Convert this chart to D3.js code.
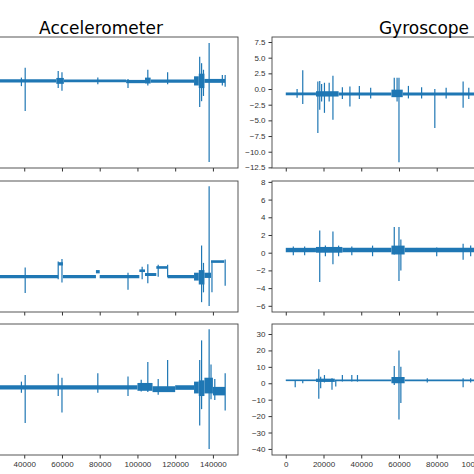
<!DOCTYPE html>
<html>
<head>
<meta charset="utf-8">
<style>
  body { margin: 0; background: #fff; }
  svg { display: block; font-family: "DejaVu Sans", sans-serif; }
</style>
</head>
<body>
<script src="https://cdn.jsdelivr.net/npm/d3@7/dist/d3.min.js"></script>
<script>
const W = 474, H = 474
const color = '#1f77b4'
const xTicks = [0, 20000, 40000, 60000, 80000, 100000, 120000, 140000]

// each panel: y domain, y ticks, noise band segments [x0, x1, lo, hi], spikes [x, lo, hi]
const accX = {
  domain: [-10, 10], ticks: [],
  bands: [[0, 57000, 3.05, 3.55], [57000, 61000, 2.85, 3.75], [61000, 94000, 3.1, 3.5], [94000, 104000, 2.95, 3.45],
    [104000, 107000, 2.9, 3.8], [107000, 130000, 3.0, 3.5], [130000, 132500, 2.6, 4.0], [132500, 135500, 2.2, 4.4], [135500, 146500, 3.0, 3.6]],
  spikes: [[38500, 2.5, 3.8], [40500, -1.3, 5.3], [58000, 2.2, 4.8], [60000, 1.8, 4.6], [79000, 2.8, 3.8], [95000, 2.2, 3.6],
    [105500, 2.6, 5.0], [116000, 2.8, 4.6], [133000, -0.7, 7.0], [134000, 0.2, 6.0], [135000, 1.0, 5.0], [138000, -9.1, 9.1],
    [145000, 2.6, 4.2], [146500, 2.4, 4.2]]
}
const accY = {
  domain: [-10, 10], ticks: [],
  bands: [[0, 58000, -4.85, -4.35], [58000, 60500, -2.9, -2.4], [60500, 78000, -4.85, -4.35], [78000, 80000, -4.1, -3.6],
    [80000, 101000, -4.85, -4.35], [101000, 104000, -3.9, -3.5], [104000, 110000, -4.5, -4.05], [110000, 116000, -3.4, -3.0],
    [116000, 130000, -4.85, -4.35], [130000, 132500, -5.2, -4.0], [132500, 135500, -5.8, -3.6], [135500, 139000, -4.8, -4.0],
    [139000, 146000, -2.5, -2.1]],
  spikes: [[40500, -7.1, -3.2], [58000, -5.0, -2.3], [60000, -5.5, -1.9], [95000, -6.6, -4.0], [102500, -5.0, -3.1],
    [105500, -5.6, -2.7], [111000, -4.6, -2.8], [116000, -4.7, -2.8], [134000, -8.5, 0.15], [135000, -7.0, -2.5],
    [138000, -9.1, 9.2], [139500, -7.0, -2.4], [146500, -6.0, -2.0]]
}
const accZ = {
  domain: [-10, 10], ticks: [],
  bands: [[0, 100000, 0.0, 0.65], [100000, 108000, -0.2, 1.0], [108000, 120000, -0.4, 0.5], [120000, 130000, -0.05, 0.65],
    [130000, 132500, -0.6, 1.2], [132500, 135500, -1.0, 1.4], [135500, 140000, -0.6, 1.8], [140000, 146500, -0.9, 0.4]],
  spikes: [[38500, -0.5, 1.2], [40500, -5.1, 2.2], [58000, -1.0, 2.4], [60000, -3.5, 1.8], [79000, -0.5, 2.5], [95000, -1.0, 2.0],
    [102000, -0.3, 1.5], [105500, -0.4, 4.2], [111000, -0.8, 1.6], [116000, -0.4, 4.5], [133000, -5.5, 4.5], [134000, -3.0, 7.5],
    [138000, -9.1, 9.2], [139000, -1.5, 3.8], [141000, -1.6, 1.6], [146500, -3.2, 2.5]]
}
const gyroX = {
  domain: [-12.6, 8.3], ticks: [7.5, 5.0, 2.5, 0.0, -2.5, -5.0, -7.5, -10.0, -12.5],
  bands: [[0, 16000, -1.0, -0.55], [16000, 28000, -1.2, -0.35], [28000, 56000, -1.05, -0.55], [56000, 62000, -1.3, -0.1],
    [62000, 146500, -1.05, -0.55]],
  spikes: [[6000, -1.4, 0.0], [9000, -2.4, 3.0], [17000, -7.0, 1.2], [18000, -3.3, 1.3], [19000, -2.0, 0.8], [20500, -3.8, 1.0],
    [23000, -2.0, 1.0], [25000, -4.9, 2.1], [30000, -1.6, 0.3], [34000, -2.8, 0.4], [39000, -1.6, 0.5], [45000, -1.5, 0.2],
    [57500, -1.0, 1.8], [59000, -2.0, 1.8], [60000, -11.7, 1.8], [65000, -1.5, 0.5], [72000, -1.5, 0.3], [79000, -6.2, 0.0],
    [85000, -1.5, 0.2], [94000, -3.0, 1.2], [97000, -1.6, 0.2]]
}
const gyroY = {
  domain: [-6.7, 8.1], ticks: [8, 6, 4, 2, 0, -2, -4, -6],
  bands: [[0, 16000, 0.05, 0.55], [16000, 30000, 0.0, 0.65], [30000, 56000, 0.05, 0.55], [56000, 63000, -0.2, 0.8], [63000, 146500, 0.05, 0.55]],
  spikes: [[4000, -0.3, 0.7], [10000, -0.3, 0.7], [18000, -3.3, 2.5], [21000, -0.4, 0.8], [25000, -1.3, 2.4], [28000, -0.4, 0.8],
    [35000, -0.3, 0.7], [46000, -0.4, 0.8], [57500, -0.2, 2.9], [60000, -3.2, 2.9], [61000, -2.0, 1.5], [80000, -0.4, 0.6],
    [94000, -0.8, 1.0], [98000, -0.4, 0.8]]
}
const gyroZ = {
  domain: [-43.7, 36.1], ticks: [30, 20, 10, 0, -10, -20, -30, -40],
  bands: [[0, 16000, 1.3, 2.3], [16000, 26000, 0.8, 2.8], [26000, 56000, 1.3, 2.3], [56000, 63000, 0.0, 3.8], [63000, 146500, 1.3, 2.3]],
  spikes: [[5000, -2.5, 2.0], [9000, 0.0, 2.0], [17500, -9.5, 8.5], [18500, -3.0, 4.0], [20500, 0.5, 5.0], [24500, -4.0, 3.0],
    [26500, -2.0, 2.0], [30000, 1.0, 5.0], [35000, 1.0, 5.0], [38000, 1.0, 5.0], [57500, -1.0, 10.5], [60000, -22.0, 20.0],
    [61000, -12.0, 10.0], [75000, 0.5, 3.0], [94000, -2.5, 3.0], [98000, 0.5, 3.0]]
}

const panels = [
  { d: accX, x0: -65, y0: 37, bottom: false },
  { d: accY, x0: -65, y0: 181, bottom: false },
  { d: accZ, x0: -65, y0: 324, bottom: true },
  { d: gyroX, x0: 272, y0: 37, bottom: false },
  { d: gyroY, x0: 272, y0: 181, bottom: false },
  { d: gyroZ, x0: 272, y0: 324, bottom: true }
]
const pw = 303, ph = 131

const svg = d3.select('body').append('svg').attr('width', W).attr('height', H)

panels.forEach(p => {
  const x = d3.scaleLinear().domain([-7300, 153300]).range([0, pw])
  const y = d3.scaleLinear().domain(p.d.domain).range([ph, 0])
  const g = svg.append('g').attr('transform', `translate(${p.x0},${p.y0})`)

  const area = d3.area().x(d => x(d[0])).y0(d => y(d[1])).y1(d => y(d[2]))
  p.d.bands.forEach(b => {
    g.append('path')
      .attr('d', area([[b[0], b[2], b[3]], [b[1], b[2], b[3]]]))
      .attr('fill', color)
  })
  g.selectAll('line.spike').data(p.d.spikes).join('line')
    .attr('class', 'spike')
    .attr('x1', d => x(d[0])).attr('x2', d => x(d[0]))
    .attr('y1', d => y(d[1])).attr('y2', d => y(d[2]))
    .attr('stroke', color).attr('stroke-width', 1.2)

  const xa = g.append('g').attr('transform', `translate(0,${ph})`)
    .call(d3.axisBottom(x).tickValues(xTicks).tickSize(3.5).tickFormat(p.bottom ? d3.format('d') : ''))
  const ya = g.append('g')
    .call(d3.axisLeft(y).tickValues(p.d.ticks).tickSize(3.5).tickFormat(d3.format('.' + (p.d === gyroX ? 1 : 0) + 'f')))
  ;[xa, ya].forEach(a => {
    a.select('.domain').remove()
    a.selectAll('line').attr('stroke', '#333')
    a.selectAll('text').attr('font-size', 8).attr('fill', '#333')
      .text(function () { return d3.select(this).text().replace('-', '\u2212') })
  })
  g.append('rect').attr('width', pw).attr('height', ph)
    .attr('fill', 'none').attr('stroke', '#444').attr('stroke-width', 0.9)
})

svg.append('text').attr('x', 101).attr('y', 34).attr('text-anchor', 'middle')
  .attr('font-size', 17).text('Accelerometer')
svg.append('text').attr('x', 424).attr('y', 34).attr('text-anchor', 'middle')
  .attr('font-size', 17).text('Gyroscope')
</script>
</body>
</html>
